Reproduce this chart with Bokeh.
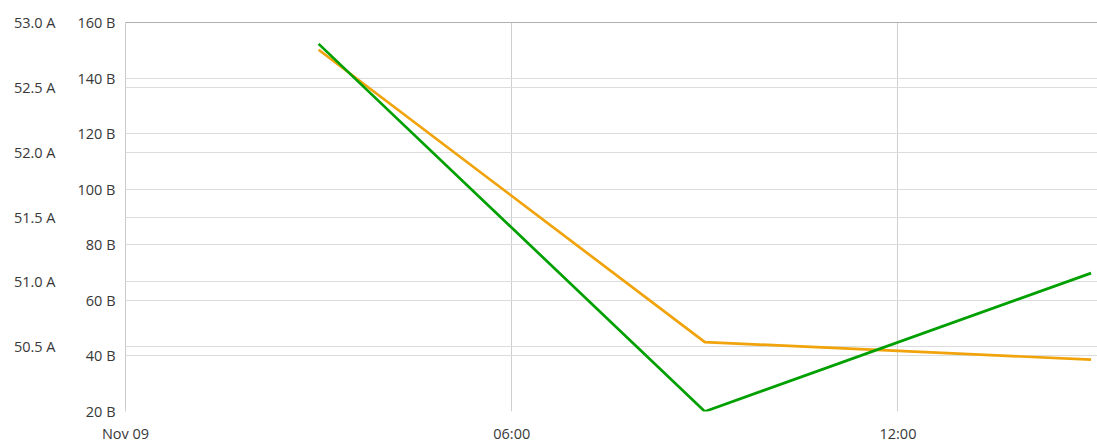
from datetime import datetime
from bokeh.plotting import figure
from bokeh.models import (Range1d, LinearAxis, FixedTicker, PrintfTickFormatter, Grid)
from bokeh.embed import file_html
from bokeh.resources import INLINE

# ---- data ----
times = [datetime(2023, 11, 9, 3, 0), datetime(2023, 11, 9, 9, 0), datetime(2023, 11, 9, 15, 0)]
series_a = [52.79, 50.535, 50.40]     # orange, left outer axis "A"
series_b = [152.3, 20.0, 69.8]        # green, inner axis "B"
x_start = datetime(2023, 11, 9, 0, 0)
x_end = datetime(2023, 11, 9, 15, 6)
x_ticks = [datetime(2023, 11, 9, 0, 0), datetime(2023, 11, 9, 6, 0), datetime(2023, 11, 9, 12, 0)]
x_labels = ["Nov 09", "06:00", "12:00"]
a_ticks = [50.5, 51.0, 51.5, 52.0, 52.5, 53.0]
b_ticks = [20, 40, 60, 80, 100, 120, 140, 160]
a_range = (50.0, 53.0)
b_range = (20, 160)

FONT = "Open Sans"
FS = "14.5px"
TXT = "#383838"
GRID = "#dcdcdc"

def ms(d):
    return (d - datetime(1970, 1, 1)).total_seconds() * 1000.0

def clean(ax, standoff):
    ax.major_tick_line_color = None
    ax.minor_tick_line_color = None
    ax.major_tick_out = 0
    ax.major_tick_in = 0
    ax.minor_tick_out = 0
    ax.minor_tick_in = 0
    ax.major_label_standoff = standoff
    ax.major_label_text_font = FONT
    ax.major_label_text_font_size = FS
    ax.major_label_text_color = TXT

p = figure(width=1097, height=445, x_axis_type="datetime",
           x_range=Range1d(x_start, x_end), y_range=Range1d(*b_range),
           output_backend="svg", toolbar_location=None,
           min_border_left=125, min_border_right=0, min_border_top=22, min_border_bottom=34)
p.outline_line_color = None
p.background_fill_color = "white"
p.extra_y_ranges = {"a": Range1d(*a_range)}

# x axis
xa = p.xaxis[0]
xa.ticker = FixedTicker(ticks=[ms(t) for t in x_ticks])
xa.major_label_overrides = {ms(t): l for t, l in zip(x_ticks, x_labels)}
xa.axis_line_color = None
clean(xa, 12)

# inner B axis (default)
ya = p.yaxis[0]
ya.ticker = FixedTicker(ticks=b_ticks)
ya.formatter = PrintfTickFormatter(format="%d B")
ya.axis_line_color = "#cccccc"
clean(ya, 10)

# outer A axis
axA = LinearAxis(y_range_name="a", ticker=FixedTicker(ticks=a_ticks),
                 formatter=PrintfTickFormatter(format="%.1f A"))
axA.axis_line_color = None
clean(axA, 19)
p.add_layout(axA, "left")

# top border as an empty axis
top = LinearAxis(ticker=FixedTicker(ticks=[]))
top.axis_line_color = "#b0b0b0"
clean(top, 0)
top.major_label_text_font_size = "0px"
p.add_layout(top, "above")

# grids
p.xgrid.grid_line_color = "#cfcfcf"
p.xgrid.ticker = xa.ticker
p.ygrid.grid_line_color = GRID
p.ygrid.ticker = ya.ticker
gA = Grid(dimension=1, ticker=axA.ticker, y_range_name="a", grid_line_color=GRID)
p.add_layout(gA)

p.line(times, series_a, y_range_name="a", line_color="#f0a30a", line_width=2.7)
p.line(times, series_b, line_color="#00a000", line_width=2.7)

open("out.html", "w").write(file_html(p, INLINE))
